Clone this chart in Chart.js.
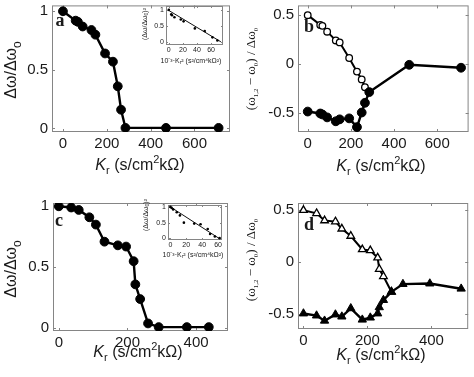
<!DOCTYPE html>
<html>
<head>
<meta charset="utf-8">
<script src="https://cdn.jsdelivr.net/npm/chart.js@4.4.0/dist/chart.umd.min.js"></script>
<style>
  html, body { margin: 0; padding: 0; background: #fff; }
  #wrap { position: relative; width: 474px; height: 377px; overflow: hidden; }
  canvas { position: absolute; }
</style>
</head>
<body>
<div id="wrap">
  <canvas id="pa" width="237" height="190" style="left:0;top:0"></canvas>
  <canvas id="pb" width="237" height="190" style="left:237px;top:0"></canvas>
  <canvas id="pc" width="237" height="187" style="left:0;top:190px"></canvas>
  <canvas id="pd" width="237" height="187" style="left:237px;top:190px"></canvas>
  <canvas id="ia" width="92" height="68" style="left:138px;top:0"></canvas>
  <canvas id="ic" width="92" height="68" style="left:138px;top:195px"></canvas>
</div>
<script>
// panels a and b (same runs)
const kAB = [0, 58, 68, 90, 130, 148, 192, 228, 250, 265, 285, 470, 710];
const dwA = [1, 0.92, 0.91, 0.87, 0.84, 0.80, 0.64, 0.57, 0.36, 0.16, 0.005, 0.005, 0.005];
const upB = [0.5, 0.40, 0.39, 0.33, 0.24, 0.22, 0.06, -0.08, -0.16, -0.24, -0.29];
const loB = [-0.49, -0.51, -0.52, -0.55, -0.59, -0.57, -0.56, -0.65, -0.50, -0.40, -0.29, -0.01, -0.04];

// panels c and d
const kC = [0, 36, 58, 89, 108, 133, 172, 196, 218, 223, 237, 260, 291, 373, 437];
const dwC = [1, 0.99, 0.97, 0.91, 0.85, 0.71, 0.68, 0.67, 0.55, 0.36, 0.24, 0.04, 0.01, 0.01, 0.01];
const kD = [0, 41, 66, 100, 120, 148, 184, 209, 232, 237, 250, 275, 311, 395, 493];
const upD = [0.5, 0.47, 0.40, 0.39, 0.32, 0.25, 0.12, 0.11, 0.04, -0.07, -0.14, -0.29];
const loD = [-0.50, -0.52, -0.57, -0.51, -0.53, -0.45, -0.56, -0.54, -0.50, -0.44, -0.37, -0.29, -0.215, -0.21, -0.26];

// insets
const inAx = [0, 3.5, 4.5, 8, 17, 21, 37, 51, 62, 69];
const inAy = [1, 0.86, 0.83, 0.77, 0.70, 0.64, 0.42, 0.34, 0.14, 0.04];
const fitAx = [0, 74];
const fitAy = [0.98, 0];
const inCx = [0, 1.5, 3.5, 8, 12, 17, 30, 38, 47, 50, 56, 62];
const inCy = [1, 0.97, 0.92, 0.83, 0.73, 0.50, 0.47, 0.45, 0.30, 0.14, 0.06, 0.01];
const fitCx = [0, 62];
const fitCy = [1, -0.01];

// tick labels
const ticksK6 = [0, 200, 400, 600];
const ticksK4 = [0, 200, 400];
const ticksRatio = [0, 0.5, 1];
const ticksShift = [-0.5, 0, 0.5];
const ticksInset = [0, 20, 40, 60];

const SANS = 'Liberation Sans';
const SERIF = 'Liberation Serif';

function pts(xs, ys) {
  return ys.map((y, i) => ({ x: xs[i], y: y }));
}

function drawRich(ctx, x, y, runs, angle) {
  ctx.save();
  ctx.translate(x, y);
  if (angle) ctx.rotate(angle);
  ctx.textBaseline = 'middle';
  ctx.textAlign = 'left';
  ctx.fillStyle = '#1a1a1a';
  let w = 0;
  runs.forEach(r => { ctx.font = r.f; w += ctx.measureText(r.t).width; });
  let cx = -w / 2;
  runs.forEach(r => {
    ctx.font = r.f;
    ctx.fillText(r.t, cx, r.dy || 0);
    cx += ctx.measureText(r.t).width;
  });
  ctx.restore();
}

// box round the plot with small inward ticks, like the original
const framePlugin = {
  id: 'frame',
  beforeDatasetsDraw(chart, args, opts) {
    const { ctx, chartArea: a, scales } = chart;
    const tl = opts.tick || 3;
    ctx.save();
    ctx.strokeStyle = '#858585';
    ctx.lineWidth = 1;
    ctx.strokeRect(a.left + 0.5, a.top + 0.5, a.right - a.left - 1, a.bottom - a.top - 1);
    ctx.beginPath();
    scales.x.ticks.forEach(t => {
      const p = Math.round(scales.x.getPixelForValue(t.value)) + 0.5;
      ctx.moveTo(p, a.bottom); ctx.lineTo(p, a.bottom - tl);
      ctx.moveTo(p, a.top); ctx.lineTo(p, a.top + tl);
    });
    scales.y.ticks.forEach(t => {
      const p = Math.round(scales.y.getPixelForValue(t.value)) + 0.5;
      ctx.moveTo(a.left, p); ctx.lineTo(a.left + tl, p);
      ctx.moveTo(a.right, p); ctx.lineTo(a.right - tl, p);
    });
    ctx.stroke();
    ctx.restore();
  }
};

const notesPlugin = {
  id: 'notes',
  afterDraw(chart, args, opts) {
    (opts.items || []).forEach(it => drawRich(chart.ctx, it.x, it.y, it.runs, it.rot));
  }
};

function panel(id, cfg) {
  const cv = document.getElementById(id);
  const [L, T, R, B] = cfg.area;
  const fs = cfg.fontSize || 15;
  return new Chart(cv, {
    type: 'line',
    data: { datasets: cfg.datasets },
    options: {
      responsive: false,
      animation: false,
      layout: { padding: { left: 0, top: T, right: cv.width - R, bottom: 0 } },
      plugins: {
        legend: { display: false },
        tooltip: { enabled: false },
        frame: { tick: cfg.tick || 3 },
        notes: { items: cfg.notes }
      },
      scales: {
        x: {
          type: 'linear', min: cfg.xr[0], max: cfg.xr[1],
          grid: { display: false, drawTicks: false },
          border: { display: false },
          afterBuildTicks: s => { s.ticks = cfg.xt.map(v => ({ value: v })); },
          afterFit: s => { s.height = cv.height - B; s.paddingLeft = 0; s.paddingRight = 0; },
          ticks: { font: { family: SANS, size: fs }, color: '#1a1a1a', padding: cfg.xpad || 3, maxRotation: 0,
                   callback: v => String(v) }
        },
        y: {
          type: 'linear', min: cfg.yr[0], max: cfg.yr[1],
          grid: { display: false, drawTicks: false },
          border: { display: false },
          afterBuildTicks: s => { s.ticks = cfg.yt.map(v => ({ value: v })); },
          afterFit: s => { s.width = L; s.paddingTop = 0; s.paddingBottom = 0; },
          ticks: { font: { family: SANS, size: fs }, color: '#1a1a1a', padding: cfg.ypad || 4,
                   callback: v => String(v) }
        }
      }
    },
    plugins: [framePlugin, notesPlugin]
  });
}

function filled(data, style, r) {
  return { data: data, borderColor: '#000', borderWidth: 2.4, pointStyle: style, pointRadius: r,
           pointBackgroundColor: '#000', pointBorderColor: '#000', pointBorderWidth: 1, tension: 0 };
}
function hollow(data, style, r) {
  return { data: data, borderColor: '#000', borderWidth: 2, pointStyle: style, pointRadius: r,
           pointBackgroundColor: '#fff', pointBorderColor: '#000', pointBorderWidth: 1.3, tension: 0 };
}

const big = 'px ' + SANS;
function xTitle(x, y) {
  return { x: x, y: y, runs: [
    { t: 'K', f: 'italic 16' + big },
    { t: 'r', f: '11' + big, dy: 5 },
    { t: ' (s/cm', f: '16' + big },
    { t: '2', f: '11' + big, dy: -6 },
    { t: 'kΩ)', f: '16' + big }
  ] };
}
function ratioTitle(x, y) {
  return { x: x, y: y, rot: -Math.PI / 2, runs: [
    { t: 'Δω/Δω', f: '16' + big },
    { t: 'o', f: '12' + big, dy: 6 }
  ] };
}
function shiftTitle(x, y) {
  const s = 'px ' + SERIF;
  return { x: x, y: y, rot: -Math.PI / 2, runs: [
    { t: '(ω', f: '13' + s },
    { t: '1,2', f: '7' + s, dy: 4 },
    { t: ' − ω', f: '13' + s },
    { t: '0', f: '7' + s, dy: 4 },
    { t: ') / Δω', f: '13' + s },
    { t: '0', f: '7' + s, dy: 4 }
  ] };
}
function letter(t, x, y) {
  return { x: x, y: y, runs: [{ t: t, f: 'bold 18px ' + SERIF }] };
}
function insetTitles(xx, xy, yx, yy) {
  const s = 'px ' + SANS;
  return [
    { x: xx, y: xy, runs: [
      { t: '10⁻³·K', f: '7' + s },
      { t: 'r', f: '5' + s, dy: 2 },
      { t: '² (s²/cm⁴kΩ²)', f: '7' + s }
    ] },
    { x: yx, y: yy, rot: -Math.PI / 2, runs: [
      { t: '(Δω/Δω', f: '7' + s },
      { t: '0', f: '5' + s, dy: 2 },
      { t: ')²', f: '7' + s }
    ] }
  ];
}

panel('pa', {
  area: [52, 4, 230, 132], xr: [-50, 762], yr: [-0.03, 1.05], xt: ticksK6, yt: ticksRatio,
  datasets: [filled(pts(kAB, dwA), 'circle', 4.4)],
  notes: [xTitle(140, 166), ratioTitle(12, 70), letter('a', 60, 21)]
});
panel('pb', {
  area: [61, 3, 235, 132], xr: [-45, 745], yr: [-0.7, 0.6], xt: ticksK6, yt: ticksShift,
  datasets: [filled(pts(kAB, loB), 'circle', 4.4), hollow(pts(kAB, upB), 'circle', 3.3)],
  notes: [xTitle(144, 167), shiftTitle(15, 69), letter('b', 72, 27)]
});
panel('pc', {
  area: [53, 13, 228, 141], xr: [-17, 493], yr: [-0.022, 1.027], xt: ticksK4, yt: ticksRatio,
  datasets: [filled(pts(kC, dwC), 'circle', 4.4)],
  notes: [xTitle(138, 163), ratioTitle(12, 79), letter('c', 59, 31)]
});
panel('pd', {
  area: [61, 13, 235, 139], xr: [-17, 515], yr: [-0.65, 0.57], xt: ticksK4, yt: ticksShift,
  datasets: [filled(pts(kD, loD), 'triangle', 4.8), hollow(pts(kD, upD), 'triangle', 4.4)],
  notes: [xTitle(144, 166), shiftTitle(15, 70), letter('d', 72, 35)]
});

function insetSets(px, py, fx, fy) {
  return [
    { data: pts(px, py), showLine: false, pointRadius: 1.3, pointBackgroundColor: '#000',
      pointBorderColor: '#000', pointBorderWidth: 0 },
    { data: pts(fx, fy), borderColor: '#111', borderWidth: 1, pointRadius: 0, tension: 0 }
  ];
}
panel('ia', {
  area: [28, 6, 85, 45], xr: [-4, 77], yr: [-0.1, 1.12], xt: ticksInset, yt: ticksRatio,
  fontSize: 7, xpad: 1, ypad: 2, tick: 2,
  datasets: insetSets(inAx, inAy, fitAx, fitAy),
  notes: insetTitles(53, 61, 7, 24)
});
panel('ic', {
  area: [30, 10, 84, 45], xr: [-3, 65], yr: [-0.05, 1.06], xt: ticksInset, yt: ticksRatio,
  fontSize: 7, xpad: 1, ypad: 2, tick: 2,
  datasets: insetSets(inCx, inCy, fitCx, fitCy),
  notes: insetTitles(55, 60, 8, 20)
});
</script>
</body>
</html>
